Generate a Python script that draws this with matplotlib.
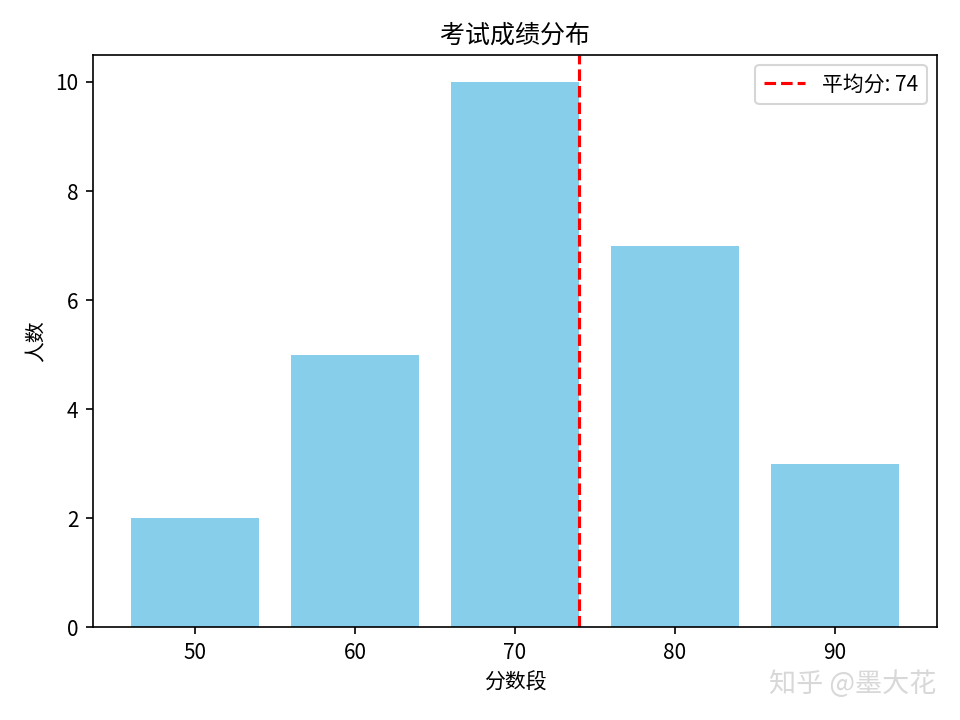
import matplotlib
matplotlib.use("Agg")
import matplotlib.pyplot as plt

plt.rcParams['font.family'] = ['Noto Sans CJK SC', 'DejaVu Sans']
plt.rcParams['axes.unicode_minus'] = False

# score bands and number of students
score_bins = [50, 60, 70, 80, 90]
counts = [2, 5, 10, 7, 3]
mean_score = 74

fig, ax = plt.subplots(figsize=(6.4, 4.8), dpi=150)
ax.bar(score_bins, counts, width=8, color='skyblue')
ax.axvline(mean_score, color='red', linestyle='--', label=f'平均分: {mean_score}')

ax.set_title('考试成绩分布')
ax.set_xlabel('分数段')
ax.set_ylabel('人数')
ax.set_xticks(score_bins)
ax.legend()

fig.subplots_adjust(left=0.097, right=0.976, top=0.924, bottom=0.129)
# watermark from the source image
fig.text(0.975, 0.05, '知乎 @墨大花', ha='right', va='center', fontsize=13,
         color='#d8d8d8')
fig.savefig('out.png')
